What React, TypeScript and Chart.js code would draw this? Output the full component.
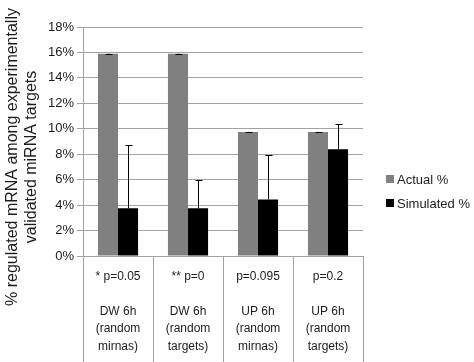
import React, { useEffect, useRef } from "react";
import { Chart, registerables } from "chart.js";

Chart.register(...registerables);

// ---- data ----
const pLabels = ["* p=0.05", "** p=0", "p=0.095", "p=0.2"];
const groupLabels = ["DW 6h", "DW 6h", "UP 6h", "UP 6h"];
const randomLine1 = ["(random", "(random", "(random", "(random"];
const randomLine2 = ["mirnas)", "targets)", "mirnas)", "targets)"];

const actualValues = [15.9, 15.9, 9.75, 9.75];
const actualErrorTops = [15.9, 15.9, 9.75, 9.75];
const simulatedValues = [3.75, 3.75, 4.45, 8.4];
const simulatedErrorTops = [8.7, 6.0, 7.9, 10.4];

const seriesNames = ["Actual %", "Simulated %"];
const seriesColors = ["#808080", "#000000"];

const yMin = 0;
const yMax = 18;
const yStep = 2;
const yAxisTitle = ["% regulated mRNA among experimentally", "validated miRNA targets"];

const FONT = "'Liberation Sans', Arial, Helvetica, sans-serif";
const TEXT_COLOR = "#1c1c1c";
const GRID_COLOR = "#a3a3a3";

const errorBarPlugin = {
  id: "errorBars",
  afterDatasetsDraw(chart: any) {
    const ctx = chart.ctx;
    const yScale = chart.scales.y;
    ctx.save();
    ctx.strokeStyle = "#000";
    ctx.lineWidth = 1;
    chart.data.datasets.forEach((ds: any, i: number) => {
      const tops: number[] = ds.errorTops;
      if (!tops) return;
      const meta = chart.getDatasetMeta(i);
      meta.data.forEach((bar: any, j: number) => {
        const x = Math.round(bar.x) + 0.5;
        const yTop = Math.round(yScale.getPixelForValue(tops[j])) + 0.5;
        const yBar = bar.y;
        ctx.beginPath();
        ctx.moveTo(x, yBar);
        ctx.lineTo(x, yTop);
        ctx.moveTo(x - 3, yTop);
        ctx.lineTo(x + 4, yTop);
        ctx.stroke();
      });
    });
    ctx.restore();
  },
};

// vertical separators between category labels, below the plot area
const separatorPlugin = {
  id: "categorySeparators",
  afterDraw(chart: any) {
    const ctx = chart.ctx;
    const xScale = chart.scales.x;
    const n = chart.data.labels.length;
    ctx.save();
    ctx.strokeStyle = GRID_COLOR;
    ctx.lineWidth = 1;
    ctx.beginPath();
    for (let i = 0; i <= n; i++) {
      const x = Math.round(xScale.getPixelForValue(i - 0.5)) + 0.5;
      ctx.moveTo(x, chart.chartArea.bottom);
      ctx.lineTo(x, chart.height);
    }
    ctx.stroke();
    ctx.restore();
  },
};

const sideLegendPlugin = {
  id: "sideLegend",
  afterDraw(chart: any) {
    const ctx = chart.ctx;
    const area = chart.chartArea;
    const x = area.right + 23;
    const y0 = area.top + 152;
    ctx.save();
    ctx.font = `13px ${FONT}`;
    ctx.textBaseline = "middle";
    ctx.textAlign = "left";
    chart.data.datasets.forEach((ds: any, i: number) => {
      const y = y0 + i * 24;
      ctx.fillStyle = ds.backgroundColor;
      ctx.fillRect(x, y - 4, 8, 8);
      ctx.fillStyle = TEXT_COLOR;
      ctx.fillText(ds.label, x + 11, y + 1);
    });
    ctx.restore();
  },
};

const yTitlePlugin = {
  id: "yTitle",
  afterDraw(chart: any) {
    const ctx = chart.ctx;
    const area = chart.chartArea;
    const cy = area.top + 130;
    ctx.save();
    ctx.font = `16px ${FONT}`;
    ctx.fillStyle = TEXT_COLOR;
    ctx.textAlign = "center";
    ctx.textBaseline = "middle";
    yAxisTitle.forEach((line, i) => {
      ctx.save();
      ctx.translate(13 + i * 19, cy);
      ctx.rotate(-Math.PI / 2);
      ctx.fillText(line, 0, 0);
      ctx.restore();
    });
    ctx.restore();
  },
};

export default function App() {
  const canvasRef = useRef<HTMLCanvasElement | null>(null);

  useEffect(() => {
    if (!canvasRef.current) return;
    const labels = pLabels.map((p, i) => [p, "", groupLabels[i], randomLine1[i], randomLine2[i]]);
    const chart = new Chart(canvasRef.current, {
      type: "bar",
      data: {
        labels,
        datasets: [
          {
            label: seriesNames[0],
            data: actualValues,
            backgroundColor: seriesColors[0],
            errorTops: actualErrorTops,
            categoryPercentage: 0.573,
            barPercentage: 1.0,
          } as any,
          {
            label: seriesNames[1],
            data: simulatedValues,
            backgroundColor: seriesColors[1],
            errorTops: simulatedErrorTops,
            categoryPercentage: 0.573,
            barPercentage: 1.0,
          } as any,
        ],
      },
      options: {
        responsive: false,
        animation: false,
        layout: { padding: { left: 45, right: 111, top: 27, bottom: -5 } },
        plugins: {
          legend: { display: false },
          tooltip: { enabled: false },
        },
        scales: {
          x: {
            offset: true,
            grid: {
              offset: true,
              drawOnChartArea: false,
              drawTicks: false,
              color: GRID_COLOR,
            },
            border: { display: true, color: GRID_COLOR },
            ticks: {
              padding: 12,
              color: TEXT_COLOR,
              font: { family: FONT, size: 12, lineHeight: 1.45 },
              maxRotation: 0,
              autoSkip: false,
            },
          },
          y: {
            min: yMin,
            max: yMax,
            grid: { color: GRID_COLOR, tickLength: 6 },
            border: { display: true, color: GRID_COLOR },
            ticks: {
              stepSize: yStep,
              padding: 3,
              color: TEXT_COLOR,
              font: { family: FONT, size: 13 },
              callback: (v: any) => `${v}%`,
            },
          },
        },
      },
      plugins: [errorBarPlugin, separatorPlugin, sideLegendPlugin, yTitlePlugin],
    });
    return () => chart.destroy();
  }, []);

  return (
    <div style={{ position: "absolute", left: 0, top: 0, width: 474, height: 362, background: "#fff" }}>
      <canvas ref={canvasRef} width={474} height={362} />
    </div>
  );
}
